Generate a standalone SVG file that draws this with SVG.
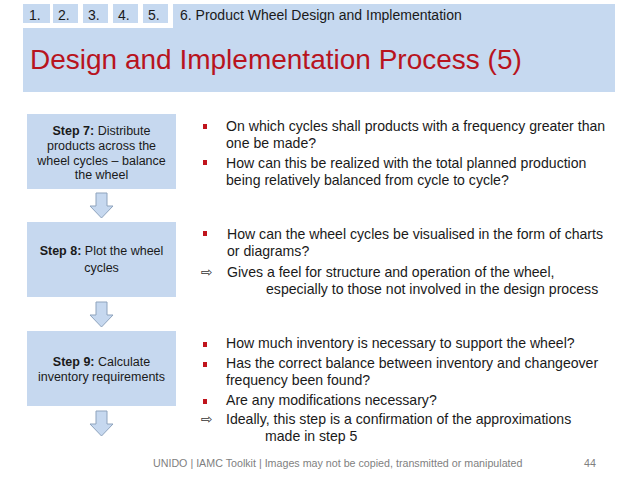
<svg xmlns="http://www.w3.org/2000/svg" width="638" height="478" viewBox="0 0 638 478">
<style>
.hdr{fill:#c6d9f0}
.box{fill:#c6d8ef}
.tab{font-family:"Liberation Sans",Arial,sans-serif;font-size:14px;fill:#1a1a1a}
.ttl{font-family:"Liberation Sans",Arial,sans-serif;font-size:28px;fill:#b8141e}
.bt{font-family:"Liberation Sans",Arial,sans-serif;font-size:12.5px;fill:#1a1a1a;text-anchor:middle}
.tx{font-family:"Liberation Sans",Arial,sans-serif;font-size:14.1px;fill:#1a1a1a}
.ft{font-family:"Liberation Sans",Arial,sans-serif;font-size:10.7px;fill:#7f7f7f}
.bul{fill:#c0141c}
.arr{fill:#c6d8ef;stroke:#8ea3bd;stroke-width:1}
.sym{font-family:"DejaVu Sans",sans-serif;font-size:14px;fill:#333}
</style>
<defs>
<path id="dn" d="M96,0 H107 V13 H113 L101.5,25 L90,13 H96 Z"/>
</defs>
<g id="header">
<rect class="hdr" x="23" y="4" width="27" height="19"/>
<rect class="hdr" x="53" y="4" width="25" height="19"/>
<rect class="hdr" x="83" y="4" width="25" height="19"/>
<rect class="hdr" x="113" y="4" width="25" height="19"/>
<rect class="hdr" x="143" y="4" width="25" height="19"/>
<rect class="hdr" x="173" y="4" width="442" height="25"/>
<rect class="hdr" x="23" y="28" width="592" height="64"/>
<text class="tab" x="29" y="20">1.</text>
<text class="tab" x="58" y="20">2.</text>
<text class="tab" x="88" y="20">3.</text>
<text class="tab" x="118" y="20">4.</text>
<text class="tab" x="148" y="20">5.</text>
<text class="tab" x="180" y="20">6. Product Wheel Design and Implementation</text>
<text class="ttl" x="30" y="69">Design and Implementation Process (5)</text>
</g>
<g id="step7">
<rect class="box" x="27" y="114" width="149" height="75"/>
<text class="bt" x="101.5" y="135"><tspan font-weight="bold">Step 7:</tspan> Distribute</text>
<text class="bt" x="101.5" y="150">products across the</text>
<text class="bt" x="101.5" y="165">wheel cycles – balance</text>
<text class="bt" x="101.5" y="179">the wheel</text>
</g>
<g id="step8">
<rect class="box" x="27" y="222" width="149" height="75"/>
<text class="bt" x="101.5" y="255"><tspan font-weight="bold">Step 8:</tspan> Plot the wheel</text>
<text class="bt" x="101.5" y="272">cycles</text>
</g>
<g id="step9">
<rect class="box" x="27" y="331" width="149" height="75"/>
<text class="bt" x="101.5" y="366"><tspan font-weight="bold">Step 9:</tspan> Calculate</text>
<text class="bt" x="101.5" y="381">inventory requirements</text>
</g>
<g id="connectors">
<use href="#dn" class="arr" y="193"/>
<use href="#dn" class="arr" y="302"/>
<use href="#dn" class="arr" y="411"/>
</g>
<g id="text7">
<rect class="bul" x="203" y="124" width="4" height="5"/>
<text class="tx" x="226" y="131">On which cycles shall products with a frequency greater than</text>
<text class="tx" x="226" y="148">one be made?</text>
<rect class="bul" x="203" y="160" width="4" height="5"/>
<text class="tx" x="226" y="168">How can this be realized with the total planned production</text>
<text class="tx" x="226" y="185">being relatively balanced from cycle to cycle?</text>
</g>
<g id="text8">
<rect class="bul" x="203" y="231" width="4" height="5"/>
<text class="tx" x="227" y="239">How can the wheel cycles be visualised in the form of charts</text>
<text class="tx" x="227" y="256">or diagrams?</text>
<text class="sym" x="201" y="277">⇨</text>
<text class="tx" x="227" y="277">Gives a feel for structure and operation of the wheel,</text>
<text class="tx" x="266" y="294">especially to those not involved in the design process</text>
</g>
<g id="text9">
<rect class="bul" x="203" y="342" width="4" height="5"/>
<text class="tx" x="226" y="348">How much inventory is necessary to support the wheel?</text>
<rect class="bul" x="203" y="362" width="4" height="5"/>
<text class="tx" x="226" y="368">Has the correct balance between inventory and changeover</text>
<text class="tx" x="226" y="385">frequency been found?</text>
<rect class="bul" x="203" y="399" width="4" height="5"/>
<text class="tx" x="226" y="405">Are any modifications necessary?</text>
<text class="sym" x="201" y="424">⇨</text>
<text class="tx" x="226" y="424">Ideally, this step is a confirmation of the approximations</text>
<text class="tx" x="265" y="441">made in step 5</text>
</g>
<g id="footer">
<text class="ft" x="153" y="467">UNIDO | IAMC Toolkit | Images may not be copied, transmitted or manipulated</text>
<text class="ft" x="584" y="467">44</text>
</g>
</svg>
